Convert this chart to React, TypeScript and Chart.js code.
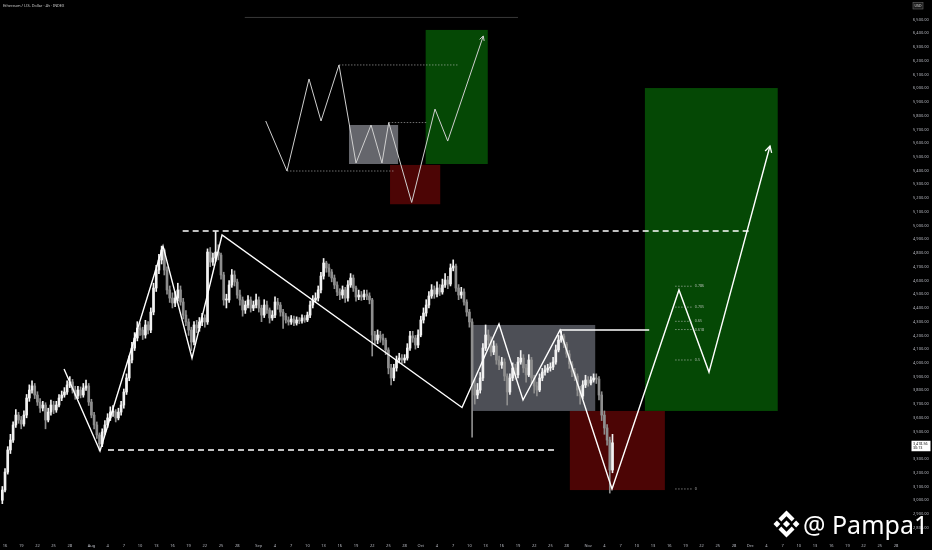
import React, { useEffect, useRef } from 'react';
import { Chart, registerables } from 'chart.js';

Chart.register(...registerables);

// ---------- candle data (12h candles, ETH/USD) ----------
const FIRST_OPEN = 3000;
const CANDLE_START_DAY = -0.5; // days from Jul 16
const CANDLE_STEP_DAYS = 0.5;

const CLOSES = [
  3074, 3205, 3366, 3438, 3548, 3620, 3584, 3555, 3620, 3744,
  3802, 3832, 3766, 3715, 3671, 3693, 3584, 3642, 3693, 3657,
  3693, 3744, 3766, 3788, 3839, 3861, 3802, 3759, 3802, 3766,
  3817, 3832, 3715, 3620, 3548, 3475, 3409, 3497, 3548, 3599,
  3642, 3642, 3599, 3642, 3693, 3788, 3890, 4021, 4108, 4181,
  4254, 4239, 4203, 4276, 4239, 4370, 4545, 4676, 4749, 4822,
  4676, 4531, 4472, 4436, 4472, 4531, 4443, 4348, 4298, 4239,
  4152, 4276, 4254, 4298, 4327, 4298, 4807, 4734, 4764, 4807,
  4785, 4640, 4458, 4458, 4567, 4640, 4589, 4494, 4458, 4385,
  4421, 4458, 4399, 4421, 4458, 4399, 4348, 4421, 4385, 4327,
  4348, 4443, 4421, 4370, 4341, 4312, 4298, 4319, 4290, 4312,
  4305, 4327, 4312, 4348, 4421, 4458, 4472, 4531, 4632, 4727,
  4691, 4662, 4618, 4567, 4516, 4494, 4531, 4472, 4567, 4618,
  4545, 4480, 4494, 4480, 4501, 4487, 4458, 4203, 4166, 4203,
  4181, 4166, 4094, 3963, 3890, 3963, 4021, 4035, 4021, 4035,
  4108, 4196, 4181, 4130, 4203, 4312, 4363, 4421, 4487, 4531,
  4501, 4545, 4516, 4567, 4603, 4574, 4691, 4705, 4545, 4494,
  4516, 4443, 4370, 4298, 3839, 3766, 3802, 3890, 4108, 4203,
  4166, 4079, 4123, 4021, 3984, 4006, 3904, 3788, 3890, 3963,
  3912, 4006, 4035, 3963, 3912, 4021, 3890, 3832, 3802, 3890,
  3933, 3948, 3963, 3970, 4006, 4094, 4166, 4196, 4137, 4065,
  3992, 3933, 3904, 3802, 3759, 3839, 3875, 3853, 3875, 3890,
  3882, 3766, 3620, 3526, 3438, 3220, 3418,
];

const HIGHS = [
  3100, 3230, 3390, 3480, 3570, 3660, 3640, 3610, 3650, 3770,
  3840, 3870, 3850, 3790, 3740, 3720, 3710, 3670, 3730, 3720,
  3720, 3770, 3795, 3820, 3870, 3900, 3880, 3830, 3830, 3825,
  3850, 3875, 3850, 3735, 3640, 3570, 3490, 3520, 3580, 3630,
  3680, 3690, 3660, 3670, 3720, 3810, 3920, 4050, 4150, 4220,
  4300, 4290, 4260, 4310, 4300, 4400, 4580, 4710, 4790, 4850,
  4830, 4700, 4560, 4510, 4520, 4580, 4560, 4470, 4380, 4320,
  4260, 4300, 4310, 4330, 4360, 4350, 4830, 4840, 4800, 4955,
  4860, 4800, 4660, 4500, 4600, 4680, 4670, 4610, 4530, 4480,
  4450, 4490, 4480, 4450, 4500, 4480, 4420, 4460, 4450, 4400,
  4380, 4480, 4470, 4440, 4390, 4360, 4335, 4345, 4340, 4335,
  4330, 4350, 4345, 4370, 4450, 4490, 4510, 4560, 4660, 4760,
  4740, 4720, 4680, 4640, 4590, 4540, 4560, 4550, 4600, 4650,
  4640, 4560, 4530, 4520, 4530, 4530, 4510, 4470, 4230, 4240,
  4230, 4210, 4180, 4110, 3990, 3990, 4050, 4070, 4060, 4060,
  4140, 4230, 4230, 4200, 4240, 4340, 4400, 4460, 4520, 4570,
  4560, 4590, 4570, 4610, 4650, 4630, 4720, 4750, 4720, 4570,
  4550, 4540, 4460, 4390, 4320, 3880, 3850, 3930, 4140, 4276,
  4240, 4190, 4160, 4140, 4050, 4040, 4030, 3920, 3920, 4000,
  3990, 4040, 4090, 4060, 3990, 4060, 4040, 3910, 3860, 3920,
  3960, 3980, 3990, 4000, 4040, 4130, 4200, 4230, 4210, 4150,
  4090, 4010, 3960, 3920, 3830, 3870, 3910, 3900, 3900, 3920,
  3920, 3900, 3790, 3650, 3550, 3460, 3480,
];

const LOWS = [
  2975, 3060, 3190, 3340, 3420, 3530, 3560, 3520, 3540, 3600,
  3720, 3780, 3740, 3690, 3640, 3650, 3520, 3570, 3620, 3630,
  3640, 3680, 3725, 3750, 3770, 3820, 3780, 3735, 3740, 3745,
  3750, 3800, 3690, 3600, 3520, 3450, 3360, 3390, 3480, 3530,
  3580, 3610, 3570, 3585, 3620, 3670, 3770, 3870, 4000, 4090,
  4160, 4200, 4170, 4180, 4210, 4220, 4350, 4520, 4650, 4720,
  4640, 4500, 4440, 4400, 4410, 4450, 4420, 4320, 4270, 4200,
  4090, 4130, 4220, 4230, 4270, 4260, 4280, 4700, 4710, 4740,
  4750, 4610, 4420, 4400, 4440, 4550, 4560, 4470, 4420, 4340,
  4360, 4400, 4370, 4380, 4400, 4370, 4300, 4330, 4360, 4290,
  4310, 4330, 4390, 4340, 4250, 4290, 4275, 4280, 4270, 4275,
  4285, 4290, 4295, 4300, 4330, 4400, 4440, 4450, 4510, 4610,
  4660, 4630, 4590, 4540, 4490, 4460, 4470, 4440, 4450, 4550,
  4520, 4450, 4460, 4455, 4460, 4460, 4430, 4050, 4130, 4140,
  4150, 4130, 4060, 3920, 3840, 3870, 3940, 4000, 3995, 4000,
  4020, 4090, 4150, 4100, 4110, 4190, 4290, 4340, 4400, 4470,
  4470, 4480, 4490, 4500, 4550, 4540, 4560, 4670, 4520, 4460,
  4470, 4420, 4340, 4260, 3460, 3700, 3740, 3780, 3870, 4090,
  4130, 4050, 4060, 3990, 3950, 3960, 3870, 3693, 3770, 3870,
  3880, 3890, 3990, 3930, 3860, 3900, 3850, 3780, 3760, 3790,
  3870, 3910, 3930, 3940, 3950, 3990, 4080, 4150, 4110, 4040,
  3960, 3900, 3870, 3760, 3700, 3740, 3820, 3830, 3840, 3860,
  3850, 3730, 3580, 3480, 3400, 3052, 3200,
];

const CURRENT_PRICE = 3418.56;
const COUNTDOWN = '30:13';

// ---------- axes ----------
const X_MIN = -0.93;
const X_MAX = 166.67;
const Y_MIN = 2725;
const Y_MAX = 6642;

const X_TICK_DATES = [
  '07-16', '07-19', '07-22', '07-25', '07-28',
  '08-01', '08-04', '08-07', '08-10', '08-13', '08-16', '08-19', '08-22', '08-25', '08-28',
  '09-01', '09-04', '09-07', '09-10', '09-13', '09-16', '09-19', '09-22', '09-25', '09-28',
  '10-01', '10-04', '10-07', '10-10', '10-13', '10-16', '10-19', '10-22', '10-25', '10-28',
  '11-01', '11-04', '11-07', '11-10', '11-13', '11-16', '11-19', '11-22', '11-25', '11-28',
  '12-01', '12-04', '12-07', '12-10', '12-13', '12-16', '12-19', '12-22', '12-25', '12-28',
];
const MONTH_NAMES = ['Jan', 'Feb', 'Mar', 'Apr', 'May', 'Jun', 'Jul', 'Aug', 'Sep', 'Oct', 'Nov', 'Dec'];

const Y_TICKS = [
  2800, 2900, 3000, 3100, 3200, 3300, 3400, 3500, 3600, 3700,
  3800, 3900, 4000, 4100, 4200, 4300, 4400, 4500, 4600, 4700,
  4800, 4900, 5000, 5100, 5200, 5300, 5400, 5500, 5600, 5700,
  5800, 5900, 6000, 6100, 6200, 6300, 6400, 6500,
];

// ---------- drawings (day, price) ----------
const MAIN_ZIGZAG = [
  [10.93, 3955], [17.59, 3358], [29.26, 4851], [34.63, 4035], [40.19, 4931],
  [84.63, 3675], [91.48, 4283], [95.93, 3730], [102.78, 4239], [112.41, 3082],
  [124.81, 4531], [130.37, 3933], [141.67, 5579],
];
const RESISTANCE_PRICE = 4960;
const RESISTANCE_SPAN = [32.9, 138.0];
const SUPPORT_PRICE = 3366;
const SUPPORT_SPAN = [19.07, 101.9];
const RANGE_HIGH_PRICE = 4239;
const RANGE_HIGH_SPAN = [102.78, 119.3];

const GRAY_BOX = [86.5, 109.3, 3650, 4276];
const RED_BOX = [104.6, 122.2, 3074, 3650];
const GREEN_BOX = [118.5, 143.1, 3650, 6001];

const FIB_LOW = 3082;
const FIB_HIGH = 4960;
const FIB_LEVELS = [0, 0.5, 0.618, 0.65, 0.705, 0.786];
const FIB_LABELS = ['0', '0.5', '0.618', '0.65', '0.705', '0.786'];
const FIB_SPAN = [124.1, 127.2];

const INSET_PATH = [
  [48.28, 5761], [52.22, 5397], [56.3, 6067], [58.52, 5761], [61.85, 6169],
  [65.0, 5455], [67.78, 5732], [69.81, 5455], [71.06, 5750], [75.31, 5168],
  [79.63, 5848], [81.98, 5615], [88.57, 6380],
];
const INSET_GRAY_BOX = [63.7, 72.8, 5448, 5732];
const INSET_RED_BOX = [71.3, 80.6, 5155, 5441];
const INSET_GREEN_BOX = [77.9, 89.4, 5448, 6424];
const INSET_HIGH_PRICE = 6169;
const INSET_HIGH_SPAN = [61.85, 83.9];
const INSET_LOW_PRICE = 5397;
const INSET_LOW_SPAN = [52.22, 72.2];
const INSET_MID_PRICE = 5750;
const INSET_MID_SPAN = [71.06, 78.1];
const TOP_RULE_PRICE = 6515;
const TOP_RULE_SPAN = [44.4, 95.0];

const TITLE = 'Ethereum / U.S. Dollar · 4h · INDEX';
const WATERMARK = '@ Pampa1';

// ---------- helpers ----------
const ORIGIN = Date.UTC(2025, 6, 16);
const dayOf = (md: string) => {
  const [m, d] = md.split('-').map(Number);
  return (Date.UTC(2025, m - 1, d) - ORIGIN) / 86400000;
};
const labelOf = (md: string) => {
  const [m, d] = md.split('-').map(Number);
  return d === 1 ? MONTH_NAMES[m - 1] : String(d);
};

const FONT = "'Noto Sans', 'DejaVu Sans', sans-serif";
const AXIS_COLOR = '#b8bac2';

function lineDs(points: number[][], color: string, width: number, dash: number[] = []) {
  return {
    type: 'line' as const,
    data: points.map(([x, y]) => ({ x, y })),
    borderColor: color,
    borderWidth: width,
    borderDash: dash,
    pointRadius: 0,
    fill: false,
    tension: 0,
    order: 0,
  };
}
const hLine = (price: number, span: number[]) => [[span[0], price], [span[1], price]];

export default function App() {
  const ref = useRef<HTMLCanvasElement>(null);

  useEffect(() => {
    document.body.style.margin = '0';
    document.body.style.background = '#000';
    const canvas = ref.current!;

    const opens = CLOSES.map((_, i) => (i === 0 ? FIRST_OPEN : CLOSES[i - 1]));
    const days = CLOSES.map((_, i) => CANDLE_START_DAY + i * CANDLE_STEP_DAYS);
    const colors = CLOSES.map((c, i) => (c >= opens[i] ? '#f2f2f2' : '#8e8e8e'));
    const xTickValues = X_TICK_DATES.map(dayOf);
    const xTickLabels = X_TICK_DATES.map(labelOf);

    const rectPlugin = {
      id: 'boxes',
      beforeDatasetsDraw(chart: any) {
        const { ctx, scales } = chart;
        const fillBox = (b: number[], color: string) => {
          const l = scales.x.getPixelForValue(b[0]);
          const r = scales.x.getPixelForValue(b[1]);
          const t = scales.y.getPixelForValue(b[3]);
          const btm = scales.y.getPixelForValue(b[2]);
          ctx.fillStyle = color;
          ctx.fillRect(l, t, r - l, btm - t);
        };
        ctx.save();
        fillBox(GREEN_BOX, '#054805');
        fillBox(RED_BOX, '#4c0505');
        fillBox(GRAY_BOX, 'rgba(125,128,138,0.62)');
        fillBox(INSET_GREEN_BOX, '#054805');
        fillBox(INSET_RED_BOX, '#4c0505');
        fillBox(INSET_GRAY_BOX, 'rgba(140,142,150,0.72)');
        ctx.restore();
      },
      afterDatasetsDraw(chart: any) {
        const { ctx, scales } = chart;
        const px = (d: number) => scales.x.getPixelForValue(d);
        const py = (p: number) => scales.y.getPixelForValue(p);
        ctx.save();
        // fib levels
        ctx.strokeStyle = 'rgba(200,200,200,0.75)';
        ctx.lineWidth = 0.8;
        ctx.setLineDash([1.5, 1.5]);
        ctx.font = `3.6px ${FONT}`;
        ctx.fillStyle = 'rgba(210,210,210,0.85)';
        ctx.textBaseline = 'middle';
        FIB_LEVELS.forEach((lv, i) => {
          const y = py(FIB_LOW + lv * (FIB_HIGH - FIB_LOW));
          ctx.beginPath();
          ctx.moveTo(px(FIB_SPAN[0]), y);
          ctx.lineTo(px(FIB_SPAN[1]), y);
          ctx.stroke();
          ctx.fillText(FIB_LABELS[i], px(FIB_SPAN[1]) + 3, y);
        });
        ctx.setLineDash([]);
        // arrow heads
        const arrow = (pts: number[][], color: string, w: number, len: number) => {
          const a = pts[pts.length - 2];
          const b = pts[pts.length - 1];
          const x1 = px(a[0]), y1 = py(a[1]), x2 = px(b[0]), y2 = py(b[1]);
          const ang = Math.atan2(y2 - y1, x2 - x1);
          ctx.strokeStyle = color;
          ctx.lineWidth = w;
          ctx.beginPath();
          ctx.moveTo(x2 - len * Math.cos(ang - 0.5), y2 - len * Math.sin(ang - 0.5));
          ctx.lineTo(x2, y2);
          ctx.lineTo(x2 - len * Math.cos(ang + 0.5), y2 - len * Math.sin(ang + 0.5));
          ctx.stroke();
        };
        arrow(MAIN_ZIGZAG, '#ffffff', 1.3, 7);
        arrow(INSET_PATH, '#d0d0d0', 1, 5);
        ctx.restore();
      },
      afterDraw(chart: any) {
        const { ctx, scales, width } = chart;
        ctx.save();
        // title
        ctx.font = `3.8px ${FONT}`;
        ctx.fillStyle = '#d0d0d0';
        ctx.textBaseline = 'middle';
        ctx.textAlign = 'left';
        ctx.fillText(TITLE, 3, 5.8);
        // currency box
        ctx.fillStyle = '#1c1c1c';
        ctx.fillRect(width - 19, 2.5, 10, 6.5);
        ctx.strokeStyle = '#666';
        ctx.lineWidth = 0.6;
        ctx.strokeRect(width - 19, 2.5, 10, 6.5);
        ctx.fillStyle = '#e0e0e0';
        ctx.font = `3.4px ${FONT}`;
        ctx.textAlign = 'center';
        ctx.fillText('USD', width - 14, 5.9);
        // current price label
        const yP = scales.y.getPixelForValue(CURRENT_PRICE);
        const lx = scales.x.right + 6.5;
        ctx.fillStyle = '#ffffff';
        ctx.fillRect(lx, yP - 2, 19, 10.5);
        ctx.fillStyle = '#111';
        ctx.textAlign = 'left';
        ctx.font = `3.7px ${FONT}`;
        ctx.fillText(CURRENT_PRICE.toLocaleString('en-US', { minimumFractionDigits: 2 }), lx + 1.5, yP + 0.8);
        ctx.fillText(COUNTDOWN, lx + 1.5, yP + 5.5);
        // watermark: logo
        const cx = 786.5, cy = 524;
        ctx.fillStyle = '#ffffff';
        ctx.strokeStyle = '#ffffff';
        const diamond = (x: number, y: number, r: number) => {
          ctx.beginPath();
          ctx.moveTo(x, y - r);
          ctx.lineTo(x + r, y);
          ctx.lineTo(x, y + r);
          ctx.lineTo(x - r, y);
          ctx.closePath();
          ctx.fill();
        };
        diamond(cx, cy, 3.6);
        diamond(cx - 9.6, cy, 3.4);
        diamond(cx + 9.6, cy, 3.4);
        ctx.lineWidth = 4;
        ctx.lineJoin = 'miter';
        ctx.lineCap = 'butt';
        ctx.beginPath();
        ctx.moveTo(cx - 6.6, cy - 4);
        ctx.lineTo(cx, cy - 10.6);
        ctx.lineTo(cx + 6.6, cy - 4);
        ctx.stroke();
        ctx.beginPath();
        ctx.moveTo(cx - 6.6, cy + 4);
        ctx.lineTo(cx, cy + 10.6);
        ctx.lineTo(cx + 6.6, cy + 4);
        ctx.stroke();
        // watermark: text
        ctx.font = `25px ${FONT}`;
        ctx.textBaseline = 'alphabetic';
        ctx.fillStyle = '#ffffff';
        ctx.fillText(WATERMARK, 803, 533.5);
        ctx.restore();
      },
    };

    const chart = new Chart(canvas, {
      type: 'bar',
      data: {
        datasets: [
          lineDs(MAIN_ZIGZAG, '#ffffff', 1.4),
          lineDs(INSET_PATH, '#d0d0d0', 1),
          lineDs(hLine(RESISTANCE_PRICE, RESISTANCE_SPAN), '#ffffff', 1.4, [6, 4]),
          lineDs(hLine(SUPPORT_PRICE, SUPPORT_SPAN), '#ffffff', 1.4, [6, 4]),
          lineDs(hLine(RANGE_HIGH_PRICE, RANGE_HIGH_SPAN), '#ffffff', 1.4),
          lineDs(hLine(INSET_HIGH_PRICE, INSET_HIGH_SPAN), 'rgba(200,200,200,0.7)', 0.8, [1.5, 1.5]),
          lineDs(hLine(INSET_LOW_PRICE, INSET_LOW_SPAN), 'rgba(200,200,200,0.7)', 0.8, [1.5, 1.5]),
          lineDs(hLine(INSET_MID_PRICE, INSET_MID_SPAN), 'rgba(200,200,200,0.7)', 0.8, [1.5, 1.5]),
          lineDs(hLine(TOP_RULE_PRICE, TOP_RULE_SPAN), 'rgba(255,255,255,0.28)', 0.8),
          {
            type: 'bar' as const,
            data: CLOSES.map((c, i) => ({ x: days[i], y: [Math.min(c, opens[i]), Math.max(c, opens[i])] })),
            backgroundColor: colors,
            barThickness: 2,
            minBarLength: 1,
            grouped: false,
            order: 10,
          },
          {
            type: 'bar' as const,
            data: CLOSES.map((_, i) => ({ x: days[i], y: [LOWS[i], HIGHS[i]] })),
            backgroundColor: colors,
            barThickness: 1,
            grouped: false,
            order: 11,
          },
        ] as any,
      },
      options: {
        animation: false,
        responsive: false,
        maintainAspectRatio: false,
        layout: { padding: 0, autoPadding: false },
        plugins: { legend: { display: false }, tooltip: { enabled: false } },
        scales: {
          x: {
            type: 'linear',
            min: X_MIN,
            max: X_MAX,
            offset: false,
            grid: { display: false, drawTicks: false },
            border: { display: false },
            ticks: {
              color: AXIS_COLOR,
              font: { size: 4, family: FONT },
              padding: 5,
              autoSkip: false,
              maxRotation: 0,
              minRotation: 0,
              callback: (_v: any, i: number) => xTickLabels[i],
            },
            afterBuildTicks: (s: any) => {
              s.ticks = xTickValues.map((v) => ({ value: v }));
            },
            afterFit: (s: any) => {
              s.height = 12;
              s.paddingLeft = 0;
              s.paddingRight = 0;
            },
          },
          y: {
            type: 'linear',
            position: 'right',
            min: Y_MIN,
            max: Y_MAX,
            grid: { display: false, drawTicks: false },
            border: { display: false },
            ticks: {
              color: AXIS_COLOR,
              font: { size: 4, family: FONT },
              padding: 8,
              autoSkip: false,
              callback: (v: any) =>
                Number(v).toLocaleString('en-US', { minimumFractionDigits: 2, maximumFractionDigits: 2 }),
            },
            afterBuildTicks: (s: any) => {
              s.ticks = Y_TICKS.map((v) => ({ value: v }));
            },
            afterFit: (s: any) => {
              s.width = 27;
              s.paddingTop = 0;
              s.paddingBottom = 0;
            },
          },
        },
      } as any,
      plugins: [rectPlugin],
    });

    return () => chart.destroy();
  }, []);

  return (
    <div style={{ position: 'fixed', left: 0, top: 0, width: 932, height: 550, background: '#000' }}>
      <canvas ref={ref} width={932} height={550} style={{ display: 'block', width: 932, height: 550 }} />
    </div>
  );
}
